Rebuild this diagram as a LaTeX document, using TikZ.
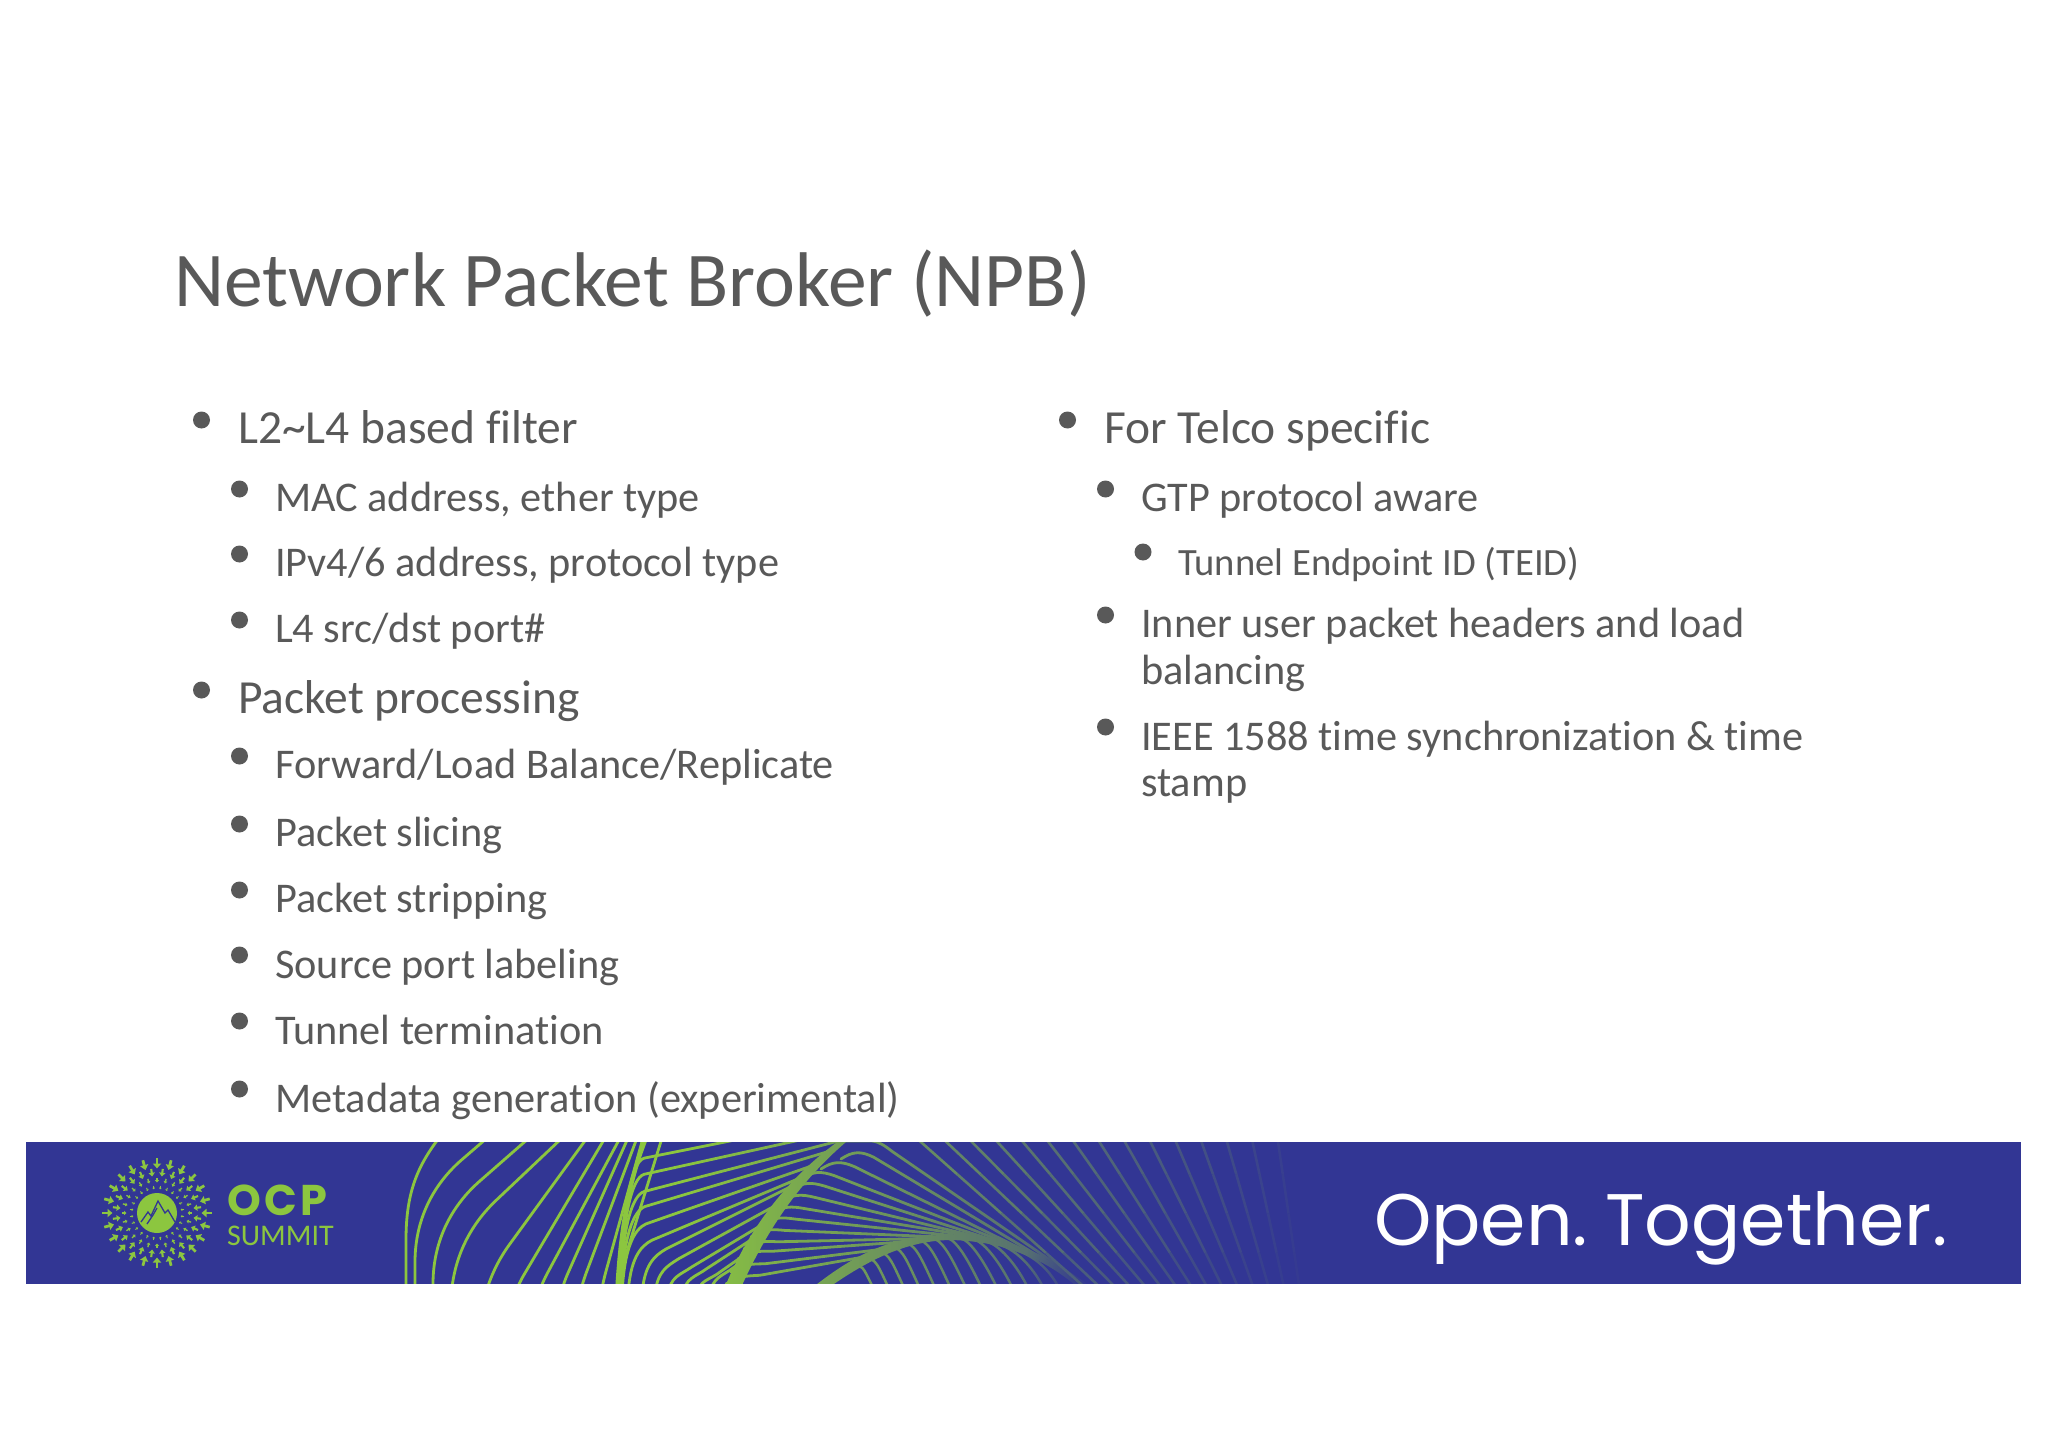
\documentclass[tikz,border=0pt]{standalone}
\usepackage{fontspec}
\setmainfont[Ligatures=NoCommon]{Carlito}
\newfontfamily\popfont[WordSpace=0.55]{Poppins}
\newfontfamily\ocpfont[LetterSpace=8]{Poppins}
\usetikzlibrary{fadings,calc}
\definecolor{bannerblue}{HTML}{323694}
\definecolor{leafgreen}{HTML}{8CC63F}
\definecolor{bodygrey}{HTML}{595959}
\tikzfading[name=fadeband, left color=transparent!100, right color=transparent!0]
\tikzfading[name=fadespot, inner color=transparent!0, outer color=transparent!100]
\tikzset{
  title/.style={anchor=base west,inner sep=0,text=bodygrey,font=\fontsize{77.5}{77.5}\selectfont},
  lone/.style={anchor=base west,inner sep=0,text=bodygrey,font=\fontsize{47.5}{47.5}\selectfont},
  ltwo/.style={anchor=base west,inner sep=0,text=bodygrey,font=\fontsize{42.3}{42.3}\selectfont},
  lthree/.style={anchor=base west,inner sep=0,text=bodygrey,font=\fontsize{38.6}{38.6}\selectfont},
  dotb/.style={circle,fill=bodygrey,inner sep=0,minimum size=17pt},
  wave/.style={draw=leafgreen,line width=2.8pt,line cap=round,line join=round},
}
\begin{document}
\begin{tikzpicture}[x=1pt,y=-1pt]
\useasboundingbox (0,0) rectangle (2048,1447);
\node[title] (t) at (174,306) {Network Packet Broker (NPB)};
\foreach \nm/\bx/\tx/\by/\ty/\st/\txt in {
 a/201.5/238/420/443/lone/{L2\textasciitilde L4 based filter},
 b/239.5/275/489/511/ltwo/{MAC address, ether type},
 c/239.5/275/554/576/ltwo/{IPv4/6 address, protocol type},
 d/239.5/275/620/642/ltwo/{L4 src/dst port\#},
 e/201.5/238/690/713/lone/{Packet processing},
 f/239.5/275/756/778/ltwo/{Forward/Load Balance/Replicate},
 g/239.5/275/824/846/ltwo/{Packet slicing},
 h/239.5/275/890/912/ltwo/{Packet stripping},
 i/239.5/275/955/978/ltwo/{Source port labeling},
 j/239.5/275/1021/1044/ltwo/{Tunnel termination},
 k/239.5/275/1089/1112/ltwo/{Metadata generation (experimental)},
 l/1067.5/1104/420/443/lone/{For Telco specific},
 m/1105.5/1141/489/511/ltwo/{GTP protocol aware},
 n/1143/1178/552/575/lthree/{Tunnel Endpoint ID (TEID)},
 o/1105.5/1141/615/637/ltwo/{Inner user packet headers and load},
 p/1105.5/1141/727/750/ltwo/{IEEE 1588 time synchronization \& time}}
 {\node[dotb] (dot\nm) at (\bx,\by) {};
  \node[\st] (txt\nm) at (\tx,\ty) {\txt};}
\node[ltwo] (o2) at (1141,684) {balancing};
\node[ltwo] (p2) at (1141,796) {stamp};
% banner
\fill[bannerblue] (26,1142) rectangle (2021,1284);
\begin{scope}
\clip (26,1142) rectangle (2021,1284);
% family 1: vertical foot, long rounded corner, then straight lean to the upper right
\draw[wave] (406,1300) -- (406,1240) .. controls (406,1195) and (416,1168) .. (439,1138);
\foreach \b/\t/\yc/\rr in {415/487/1200/62,433/529/1222/62,451/562/1243/62,480/587/1285/50,509/605/1300/30,533/620/1300/30,556/628/1300/30,576/637/1300/30,598/643/1300/30,612/662/1300/30}
 {\coordinate (c1) at (\b,\yc);
  \coordinate (e1) at (\t,1138);
  \draw[wave] (\b,1320) -- (\b,\yc+\rr) .. controls (\b,{\yc+0.35*\rr}) and ($(c1)!{0.35*\rr*1pt}!(e1)$) .. ($(c1)!{\rr*1pt}!(e1)$) -- (e1);}
% family 2: out of the crossing, corner, then a straight run up to the first band
\begin{scope}
\clip (600,1140) -- (842,1140) .. controls (782,1185) and (748,1240) .. (730,1290) -- (600,1290) -- cycle;
\foreach \yh/\m/\b in {1147/0.20/620,1162/0.22/620,1177/0.26/620,1190/0.30/621,1205/0.35/622,1220/0.42/628,1232/0.50/642,1247/0.55/655,1262/0.60/668,1273/0.65/683,1286/0.70/697,1291/0.70/710,1301/0.70/725}{
  \pgfmathsetmacro{\cx}{\b+24}
  \pgfmathsetmacro{\cy}{\yh+\m*(700-\cx)}
  \pgfmathsetmacro{\fy}{\yh-\m*200}
  \draw[wave] (\b,1295) .. controls (\b+2,{\cy+(1295-\cy)*0.35}) and (\cx-12,{\cy+12*\m+1}) .. (\cx,\cy) -- (900,\fy);
}
\end{scope}
% family 3: leaves the first band with a small bump, then falls to the second band
\foreach \px/\py/\tx/\ty in {865/1152/1075/1278,845/1162/1060/1268,825/1172/1045/1258,815/1183/1030/1252,805/1195/1015/1246,795/1207/1000/1241,785/1218/985/1239,775/1230/965/1238,768/1242/950/1238,762/1252/930/1240,755/1265/900/1247,750/1277/875/1255}{
  \coordinate (c3) at (\px,\py);
  \coordinate (e3) at (\tx,\ty);
  \draw[wave] (\px-24,\py+7) .. controls (\px-12,\py-1) and (\px-4,\py-1) .. ($(c3)!10pt!(e3)$) -- (e3);
}
\draw[wave] (840,1141) -- (872,1141) .. controls (880,1142) and (885,1146) .. (893,1152) -- (1085,1284);
% family 4: arcs under the second band
\foreach \i in {0,...,12}{
  \pgfmathsetmacro{\sx}{853+\i*13.5}
  \pgfmathsetmacro{\sy}{1238+0.0028*(\sx-950)*(\sx-950)}
  \pgfmathsetmacro{\ex}{875+\i*15.5}
  \draw[wave,line width=2.5pt] (\sx,\sy) .. controls (\sx+10,\sy+3) and (\ex-14,1262) .. (\ex,1292);
}
% bright bands, tapering
\draw[leafgreen,line width=4pt] (617,1292) .. controls (620,1240) and (626,1190) .. (645,1141);
\fill[leafgreen] (723,1292) .. controls (743,1240) and (780,1183) .. (840,1140) -- (846,1142) .. controls (790,1190) and (760,1245) .. (739,1292) -- cycle;
\fill[leafgreen] (812,1288) .. controls (850,1258) and (890,1234) .. (950,1235) .. controls (1000,1236) and (1040,1250) .. (1085,1285) -- (1075,1285) .. controls (1040,1256) and (1000,1241) .. (950,1240) .. controls (900,1241) and (860,1266) .. (828,1288) -- cycle;
% fade towards the banner colour: the gradient occupies the middle of the box
\fill[bannerblue,path fading=fadeband] (685,1142) rectangle (1265,1284);
\fill[bannerblue,path fading=fadespot] (1090,1290) circle (75);
% family 5: falling lines from the top edge, each dimming along its length
\foreach \i in {0,...,14}{
  \pgfmathsetmacro{\tx}{913+\i*26}
  \pgfmathsetmacro{\bx}{1090+\i*15}
  \pgfmathsetmacro{\pc}{max(6,58-\i*3.7)}
  \foreach \f/\g/\q in {0/0.25/1,0.25/0.5/0.88,0.5/0.75/0.7,0.75/1/0.5}{
    \pgfmathsetmacro{\pv}{\pc*\q}
    \draw[line width=2.6pt,draw=leafgreen!\pv!bannerblue] ($(\tx,1135)!\f!(\bx,1292)$) -- ($(\tx,1135)!\g!(\bx,1292)$);
  }
}
\end{scope}
% keep the banner's lower edge clean
\fill[white] (20,1284) rectangle (2030,1296);
% logo
\foreach \r/\s/\o in {54/1.25/0,44/0.95/7.5,35/0.6/0,27/0.42/7.5}{
  \foreach \k in {1,...,24}{
    \pgfmathsetmacro{\ang}{\k*15+\o}
    \begin{scope}[shift={(157,1213)},rotate=\ang]
      \fill[leafgreen] ({\r-3.6*\s},{-3.4*\s}) -- ({\r-7.5*\s},0) -- ({\r-3.6*\s},{3.4*\s}) -- cycle;
      \fill[leafgreen] ({\r-4*\s},{-1.1*\s}) rectangle ({\r+0.5*\s},{1.1*\s});
    \end{scope}
  }
}
\fill[leafgreen] (157,1213) circle (20);
\draw[bannerblue,line width=1.3pt,line join=miter] (141,1222) -- (148,1212) -- (151,1216) -- (158,1201) -- (165,1213) -- (168,1210) -- (175,1222);
\draw[bannerblue,line width=1.3pt] (147,1224) -- (153,1215) -- (157,1208);
\node[anchor=base west,inner sep=0,text=leafgreen,font=\ocpfont\bfseries\fontsize{43}{43}\selectfont] (ocp) at (227,1215) {OCP};
\node[anchor=base west,inner sep=0,text=leafgreen,font=\fontsize{30}{30}\selectfont] (summit) at (227,1245) {SUMMIT};
\node[anchor=base west,inner sep=0,text=white,font=\popfont\fontsize{73}{73}\selectfont] (open) at (1374,1245) {Open. Together.};
\end{tikzpicture}
\end{document}
